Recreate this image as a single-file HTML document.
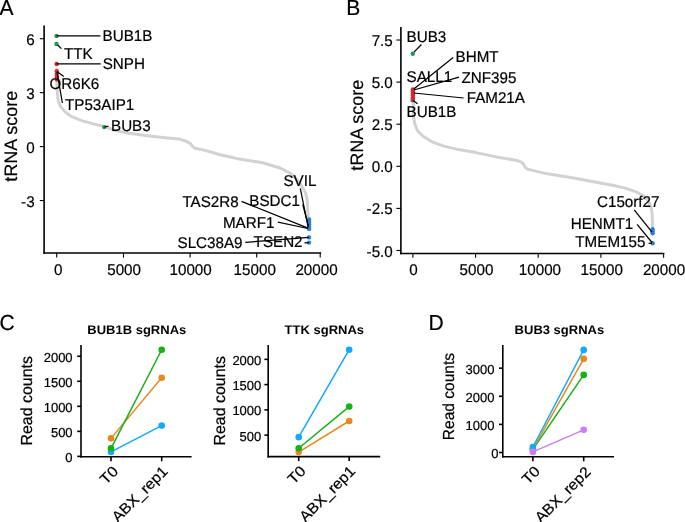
<!DOCTYPE html>
<html><head><meta charset="utf-8"><title>Figure</title>
<style>
html,body{margin:0;padding:0;background:#fff;}
body{width:685px;height:522px;overflow:hidden;}
svg{display:block;}
text{font-family:"Liberation Sans", Arial, Helvetica, sans-serif;fill:#000;text-rendering:geometricPrecision;stroke:#000;stroke-width:0.2px;}
text[font-weight="bold"]{stroke:none;}
</style></head>
<body>
<svg width="685" height="522" viewBox="0 0 685 522">
<rect width="685" height="522" fill="#fff"/>
<text transform="translate(-0.60,14.80) scale(0.97,1)" font-size="21.7">A</text>
<text transform="translate(346.20,14.60) scale(0.97,1)" font-size="21.7">B</text>
<text transform="translate(-0.60,329.60) scale(0.97,1)" font-size="21.7">C</text>
<text transform="translate(428.50,330.40) scale(0.97,1)" font-size="21.7">D</text>
<path d="M56.7,69 L56.7,82 L57.2,89.5 L57.6,95.8 L58.4,101.1 L60.5,106.4 L64.8,111.6 L71.1,116.4 L81.6,120.6 L94.3,124.1 L103.8,126.4 L114.6,130.4 L129.2,133.3 L151.1,136.2 L173,138.4 L178.8,138.9 L186,141.2 L190,143.3 L192.5,146.3 L195,148.3 L205.1,150.4 L220,154.7 L232.8,157.5 L236.3,158.4 L262.6,162.8 L280.1,168 L290.6,173.3 L299.3,182 L305.5,192.6 L307.2,199.9 L308.2,216.8 L308.8,222" fill="none" stroke="#d2d2d2" stroke-width="3.0" stroke-linejoin="round" stroke-linecap="round"/>
<line x1="44.1" y1="25.5" x2="44.1" y2="253.8" stroke="#000" stroke-width="1.6" stroke-linecap="butt"/>
<line x1="43.300000000000004" y1="253.0" x2="321.2" y2="253.0" stroke="#000" stroke-width="1.6" stroke-linecap="butt"/>
<line x1="39.8" y1="38.72" x2="44.1" y2="38.72" stroke="#000" stroke-width="1.1" stroke-linecap="butt"/>
<text transform="translate(34.60,44.72) scale(0.98,1)" font-size="15.5" text-anchor="end">6</text>
<line x1="39.8" y1="92.66" x2="44.1" y2="92.66" stroke="#000" stroke-width="1.1" stroke-linecap="butt"/>
<text transform="translate(34.60,98.66) scale(0.98,1)" font-size="15.5" text-anchor="end">3</text>
<line x1="39.8" y1="146.6" x2="44.1" y2="146.6" stroke="#000" stroke-width="1.1" stroke-linecap="butt"/>
<text transform="translate(34.60,152.60) scale(0.98,1)" font-size="15.5" text-anchor="end">0</text>
<line x1="39.8" y1="200.54" x2="44.1" y2="200.54" stroke="#000" stroke-width="1.1" stroke-linecap="butt"/>
<text transform="translate(34.60,206.54) scale(0.98,1)" font-size="15.5" text-anchor="end">-3</text>
<line x1="56.7" y1="253.0" x2="56.7" y2="257.6" stroke="#000" stroke-width="1.1" stroke-linecap="butt"/>
<text transform="translate(58.20,274.60) scale(0.98,1)" font-size="15.5" text-anchor="middle">0</text>
<line x1="123.5" y1="253.0" x2="123.5" y2="257.6" stroke="#000" stroke-width="1.1" stroke-linecap="butt"/>
<text transform="translate(124.10,274.60) scale(0.98,1)" font-size="15.5" text-anchor="middle">5000</text>
<line x1="190.1" y1="253.0" x2="190.1" y2="257.6" stroke="#000" stroke-width="1.1" stroke-linecap="butt"/>
<text transform="translate(190.60,274.60) scale(0.98,1)" font-size="15.5" text-anchor="middle">10000</text>
<line x1="256.7" y1="253.0" x2="256.7" y2="257.6" stroke="#000" stroke-width="1.1" stroke-linecap="butt"/>
<text transform="translate(254.70,274.60) scale(0.98,1)" font-size="15.5" text-anchor="middle">15000</text>
<line x1="320.2" y1="253.0" x2="320.2" y2="257.6" stroke="#000" stroke-width="1.1" stroke-linecap="butt"/>
<text transform="translate(316.50,274.60) scale(0.98,1)" font-size="15.5" text-anchor="middle">20000</text>
<text transform="translate(16.90,136.30) rotate(-90)" font-size="18.0" text-anchor="middle">tRNA score</text>
<circle cx="56.8" cy="71.2" r="2.15" fill="#d82a2b"/>
<circle cx="56.8" cy="73.3" r="2.15" fill="#d82a2b"/>
<circle cx="56.8" cy="75.4" r="2.15" fill="#d82a2b"/>
<circle cx="56.8" cy="77.5" r="2.15" fill="#d82a2b"/>
<circle cx="56.8" cy="79.6" r="2.15" fill="#d82a2b"/>
<circle cx="56.6" cy="64.0" r="2.2" fill="#d82a2b"/>
<circle cx="56.5" cy="35.9" r="2.2" fill="#1f9a55"/>
<circle cx="56.5" cy="44.0" r="2.2" fill="#1f9a55"/>
<circle cx="104.2" cy="127.1" r="2.2" fill="#1f9a55"/>
<circle cx="309.1" cy="219.4" r="2.2" fill="#2b7fd9"/>
<circle cx="309.1" cy="221.9" r="2.2" fill="#2b7fd9"/>
<circle cx="309.1" cy="224.4" r="2.2" fill="#2b7fd9"/>
<circle cx="309.1" cy="226.9" r="2.2" fill="#2b7fd9"/>
<circle cx="309.1" cy="228.9" r="2.2" fill="#2b7fd9"/>
<circle cx="309" cy="237.4" r="2.2" fill="#2b7fd9"/>
<circle cx="309" cy="242.6" r="2.2" fill="#2b7fd9"/>
<line x1="56.6" y1="35.9" x2="100.5" y2="35.9" stroke="#000" stroke-width="1.25" stroke-linecap="butt"/>
<line x1="57.6" y1="45.0" x2="61.4" y2="48.6" stroke="#000" stroke-width="1.25" stroke-linecap="butt"/>
<line x1="56.6" y1="63.8" x2="100.7" y2="63.8" stroke="#000" stroke-width="1.25" stroke-linecap="butt"/>
<line x1="57.0" y1="71.6" x2="63.8" y2="76.4" stroke="#000" stroke-width="1.25" stroke-linecap="butt"/>
<line x1="57.0" y1="72.2" x2="62.4" y2="103.0" stroke="#000" stroke-width="1.25" stroke-linecap="butt"/>
<line x1="104.4" y1="127.1" x2="108.5" y2="126.0" stroke="#000" stroke-width="1.25" stroke-linecap="butt"/>
<line x1="300.3" y1="188.4" x2="308.2" y2="227.5" stroke="#000" stroke-width="1.25" stroke-linecap="butt"/>
<line x1="302.8" y1="204.5" x2="308.4" y2="226.0" stroke="#000" stroke-width="1.25" stroke-linecap="butt"/>
<line x1="241.6" y1="201.4" x2="308.0" y2="228.2" stroke="#000" stroke-width="1.25" stroke-linecap="butt"/>
<line x1="277.9" y1="222.2" x2="308.0" y2="228.5" stroke="#000" stroke-width="1.25" stroke-linecap="butt"/>
<line x1="245.3" y1="242.4" x2="309.0" y2="237.4" stroke="#000" stroke-width="1.25" stroke-linecap="butt"/>
<line x1="304.5" y1="242.9" x2="309.0" y2="242.6" stroke="#000" stroke-width="1.25" stroke-linecap="butt"/>
<text transform="translate(102.60,41.00) scale(0.98,1)" font-size="15.5">BUB1B</text>
<text transform="translate(64.00,59.00) scale(0.98,1)" font-size="15.5">TTK</text>
<text transform="translate(102.70,69.00) scale(0.98,1)" font-size="15.5">SNPH</text>
<text transform="translate(49.40,89.40) scale(0.98,1)" font-size="15.5">OR6K6</text>
<text transform="translate(65.00,110.10) scale(0.98,1)" font-size="15.5">TP53AIP1</text>
<text transform="translate(111.00,131.30) scale(0.98,1)" font-size="15.5">BUB3</text>
<text transform="translate(283.40,185.60) scale(0.98,1)" font-size="15.5">SVIL</text>
<text transform="translate(182.40,207.00) scale(0.98,1)" font-size="15.5">TAS2R8</text>
<text transform="translate(249.30,206.00) scale(0.98,1)" font-size="15.5">BSDC1</text>
<text transform="translate(222.90,227.70) scale(0.98,1)" font-size="15.5">MARF1</text>
<text transform="translate(177.50,248.10) scale(0.98,1)" font-size="15.5">SLC38A9</text>
<text transform="translate(253.60,247.40) scale(0.98,1)" font-size="15.5">TSEN2</text>
<path d="M413.3,90 L413.3,101 L413.3,108 L413.4,114.6 L414.6,123.4 L417.5,130.7 L423.4,136.5 L432.1,141.8 L443.8,146.1 L458.4,149.6 L475.9,152.6 L496.4,156.9 L516.8,160.4 L521,161.8 L523.5,164 L525.3,167.6 L528,169.3 L531.4,170.1 L546,173.6 L575.2,178.2 L600,183.0 L614,185.5 L626,188.4 L636,191.8 L643,195.6 L648,200.5 L651,207 L652.2,214 L652.5,226.7 L652.6,230" fill="none" stroke="#d2d2d2" stroke-width="3.0" stroke-linejoin="round" stroke-linecap="round"/>
<line x1="400.9" y1="26.9" x2="400.9" y2="254.3" stroke="#000" stroke-width="1.6" stroke-linecap="butt"/>
<line x1="400.09999999999997" y1="253.5" x2="664.4" y2="253.5" stroke="#000" stroke-width="1.6" stroke-linecap="butt"/>
<line x1="396.4" y1="40.000000000000014" x2="400.9" y2="40.000000000000014" stroke="#000" stroke-width="1.1" stroke-linecap="butt"/>
<text transform="translate(392.80,46.00) scale(0.98,1)" font-size="15.5" text-anchor="end">7.5</text>
<line x1="396.4" y1="82.10000000000001" x2="400.9" y2="82.10000000000001" stroke="#000" stroke-width="1.1" stroke-linecap="butt"/>
<text transform="translate(392.80,88.10) scale(0.98,1)" font-size="15.5" text-anchor="end">5.0</text>
<line x1="396.4" y1="124.20000000000002" x2="400.9" y2="124.20000000000002" stroke="#000" stroke-width="1.1" stroke-linecap="butt"/>
<text transform="translate(392.80,130.20) scale(0.98,1)" font-size="15.5" text-anchor="end">2.5</text>
<line x1="396.4" y1="166.3" x2="400.9" y2="166.3" stroke="#000" stroke-width="1.1" stroke-linecap="butt"/>
<text transform="translate(392.80,172.30) scale(0.98,1)" font-size="15.5" text-anchor="end">0.0</text>
<line x1="396.4" y1="208.4" x2="400.9" y2="208.4" stroke="#000" stroke-width="1.1" stroke-linecap="butt"/>
<text transform="translate(392.80,214.40) scale(0.98,1)" font-size="15.5" text-anchor="end">-2.5</text>
<line x1="396.4" y1="250.5" x2="400.9" y2="250.5" stroke="#000" stroke-width="1.1" stroke-linecap="butt"/>
<text transform="translate(392.80,256.50) scale(0.98,1)" font-size="15.5" text-anchor="end">-5.0</text>
<line x1="412.9" y1="253.5" x2="412.9" y2="257.7" stroke="#000" stroke-width="1.1" stroke-linecap="butt"/>
<text transform="translate(413.40,274.90) scale(0.98,1)" font-size="15.5" text-anchor="middle">0</text>
<line x1="475.6" y1="253.5" x2="475.6" y2="257.7" stroke="#000" stroke-width="1.1" stroke-linecap="butt"/>
<text transform="translate(476.50,274.90) scale(0.98,1)" font-size="15.5" text-anchor="middle">5000</text>
<line x1="538.2" y1="253.5" x2="538.2" y2="257.7" stroke="#000" stroke-width="1.1" stroke-linecap="butt"/>
<text transform="translate(539.90,274.90) scale(0.98,1)" font-size="15.5" text-anchor="middle">10000</text>
<line x1="600.9" y1="253.5" x2="600.9" y2="257.7" stroke="#000" stroke-width="1.1" stroke-linecap="butt"/>
<text transform="translate(601.70,274.90) scale(0.98,1)" font-size="15.5" text-anchor="middle">15000</text>
<line x1="663.6" y1="253.5" x2="663.6" y2="257.7" stroke="#000" stroke-width="1.1" stroke-linecap="butt"/>
<text transform="translate(664.00,274.90) scale(0.98,1)" font-size="15.5" text-anchor="middle">20000</text>
<text transform="translate(362.50,125.20) rotate(-90)" font-size="18.0" text-anchor="middle">tRNA score</text>
<circle cx="412.5" cy="100.4" r="2.1" fill="#1f9a55"/>
<circle cx="412.9" cy="89.4" r="2.25" fill="#d82a2b"/>
<circle cx="412.9" cy="91.4" r="2.25" fill="#d82a2b"/>
<circle cx="412.9" cy="93.4" r="2.25" fill="#d82a2b"/>
<circle cx="412.9" cy="95.4" r="2.25" fill="#d82a2b"/>
<circle cx="412.9" cy="97.4" r="2.25" fill="#d82a2b"/>
<circle cx="412.9" cy="99.0" r="2.25" fill="#d82a2b"/>
<circle cx="412.8" cy="53.7" r="2.2" fill="#1f9a55"/>
<circle cx="652.6" cy="229.3" r="2.2" fill="#2b7fd9"/>
<circle cx="652.6" cy="231.3" r="2.2" fill="#2b7fd9"/>
<circle cx="652.6" cy="233.2" r="2.2" fill="#2b7fd9"/>
<circle cx="652.6" cy="243.2" r="2.2" fill="#2b7fd9"/>
<line x1="414.0" y1="52.1" x2="421.4" y2="44.5" stroke="#000" stroke-width="1.25" stroke-linecap="butt"/>
<line x1="413.8" y1="89.0" x2="453.2" y2="57.4" stroke="#000" stroke-width="1.25" stroke-linecap="butt"/>
<line x1="413.8" y1="90.0" x2="459.0" y2="77.2" stroke="#000" stroke-width="1.25" stroke-linecap="butt"/>
<line x1="413.8" y1="93.0" x2="463.6" y2="98.0" stroke="#000" stroke-width="1.25" stroke-linecap="butt"/>
<line x1="413.2" y1="100.5" x2="417.5" y2="103.8" stroke="#000" stroke-width="1.25" stroke-linecap="butt"/>
<line x1="634.2" y1="209.8" x2="652.0" y2="232.2" stroke="#000" stroke-width="1.25" stroke-linecap="butt"/>
<line x1="637.1" y1="224.4" x2="652.0" y2="242.5" stroke="#000" stroke-width="1.25" stroke-linecap="butt"/>
<line x1="648.6" y1="243.3" x2="652.0" y2="243.3" stroke="#000" stroke-width="1.25" stroke-linecap="butt"/>
<text transform="translate(406.60,42.00) scale(0.98,1)" font-size="15.5">BUB3</text>
<text transform="translate(455.60,61.90) scale(0.98,1)" font-size="15.5">BHMT</text>
<text transform="translate(406.60,82.20) scale(0.98,1)" font-size="15.5">SALL1</text>
<text transform="translate(461.50,82.50) scale(0.98,1)" font-size="15.5">ZNF395</text>
<text transform="translate(466.70,103.20) scale(0.98,1)" font-size="15.5">FAM21A</text>
<text transform="translate(406.60,116.60) scale(0.98,1)" font-size="15.5">BUB1B</text>
<text transform="translate(597.00,207.30) scale(0.98,1)" font-size="15.5">C15orf27</text>
<text transform="translate(633.20,228.80) scale(0.98,1)" font-size="15.5" text-anchor="end">HENMT1</text>
<text transform="translate(645.40,247.30) scale(0.98,1)" font-size="15.5" text-anchor="end">TMEM155</text>
<line x1="81.0" y1="344.9" x2="81.0" y2="457.6" stroke="#000" stroke-width="1.6" stroke-linecap="butt"/>
<line x1="80.2" y1="456.8" x2="191.6" y2="456.8" stroke="#000" stroke-width="1.6" stroke-linecap="butt"/>
<line x1="77.2" y1="456.4" x2="81.0" y2="456.4" stroke="#000" stroke-width="1.6" stroke-linecap="butt"/>
<text transform="translate(72.60,461.80)" font-size="13.0" text-anchor="end">0</text>
<line x1="77.2" y1="431.36499999999995" x2="81.0" y2="431.36499999999995" stroke="#000" stroke-width="1.6" stroke-linecap="butt"/>
<text transform="translate(72.60,436.76)" font-size="13.0" text-anchor="end">500</text>
<line x1="77.2" y1="406.33" x2="81.0" y2="406.33" stroke="#000" stroke-width="1.6" stroke-linecap="butt"/>
<text transform="translate(72.60,411.73)" font-size="13.0" text-anchor="end">1000</text>
<line x1="77.2" y1="381.29499999999996" x2="81.0" y2="381.29499999999996" stroke="#000" stroke-width="1.6" stroke-linecap="butt"/>
<text transform="translate(72.60,386.69)" font-size="13.0" text-anchor="end">1500</text>
<line x1="77.2" y1="356.26" x2="81.0" y2="356.26" stroke="#000" stroke-width="1.6" stroke-linecap="butt"/>
<text transform="translate(72.60,361.66)" font-size="13.0" text-anchor="end">2000</text>
<line x1="111.0" y1="456.8" x2="111.0" y2="461.3" stroke="#000" stroke-width="1.6" stroke-linecap="butt"/>
<line x1="161.7" y1="456.8" x2="161.7" y2="461.3" stroke="#000" stroke-width="1.6" stroke-linecap="butt"/>
<line x1="111.0" y1="438.3748" x2="161.7" y2="377.79009999999994" stroke="#e8891f" stroke-width="1.5" stroke-linecap="butt"/>
<line x1="111.0" y1="451.89369999999997" x2="161.7" y2="425.60695" stroke="#14aaf9" stroke-width="1.5" stroke-linecap="butt"/>
<line x1="111.0" y1="448.3888" x2="161.7" y2="349.7509" stroke="#17b017" stroke-width="1.5" stroke-linecap="butt"/>
<circle cx="111.0" cy="438.3748" r="3.3" fill="#e8891f"/>
<circle cx="161.7" cy="377.79009999999994" r="3.3" fill="#e8891f"/>
<circle cx="111.0" cy="451.89369999999997" r="3.3" fill="#14aaf9"/>
<circle cx="161.7" cy="425.60695" r="3.3" fill="#14aaf9"/>
<circle cx="111.0" cy="448.3888" r="3.3" fill="#17b017"/>
<circle cx="161.7" cy="349.7509" r="3.3" fill="#17b017"/>
<text transform="translate(87.30,333.80) scale(1.04,1)" font-size="12.5" font-weight="bold">BUB1B sgRNAs</text>
<text transform="translate(31.50,400.80) rotate(-90) scale(0.995,1)" font-size="16.0" text-anchor="middle">Read counts</text>
<text transform="translate(119.10,472.20) rotate(-45) scale(1.05,1)" font-size="15.0" text-anchor="end">T0</text>
<text transform="translate(168.70,472.20) rotate(-45) scale(1.05,1)" font-size="15.0" text-anchor="end">ABX_rep1</text>
<line x1="268.2" y1="344.9" x2="268.2" y2="457.40000000000003" stroke="#000" stroke-width="1.6" stroke-linecap="butt"/>
<line x1="267.4" y1="456.6" x2="380.2" y2="456.6" stroke="#000" stroke-width="1.6" stroke-linecap="butt"/>
<line x1="264.4" y1="435.135" x2="268.2" y2="435.135" stroke="#000" stroke-width="1.6" stroke-linecap="butt"/>
<text transform="translate(261.30,440.53)" font-size="13.0" text-anchor="end">500</text>
<line x1="264.4" y1="409.87" x2="268.2" y2="409.87" stroke="#000" stroke-width="1.6" stroke-linecap="butt"/>
<text transform="translate(261.30,415.27)" font-size="13.0" text-anchor="end">1000</text>
<line x1="264.4" y1="384.60499999999996" x2="268.2" y2="384.60499999999996" stroke="#000" stroke-width="1.6" stroke-linecap="butt"/>
<text transform="translate(261.30,390.00)" font-size="13.0" text-anchor="end">1500</text>
<line x1="264.4" y1="359.34" x2="268.2" y2="359.34" stroke="#000" stroke-width="1.6" stroke-linecap="butt"/>
<text transform="translate(261.30,364.74)" font-size="13.0" text-anchor="end">2000</text>
<line x1="298.7" y1="456.6" x2="298.7" y2="461.1" stroke="#000" stroke-width="1.6" stroke-linecap="butt"/>
<line x1="349.2" y1="456.6" x2="349.2" y2="461.1" stroke="#000" stroke-width="1.6" stroke-linecap="butt"/>
<line x1="298.7" y1="452.06255" x2="349.2" y2="420.98659999999995" stroke="#e8891f" stroke-width="1.5" stroke-linecap="butt"/>
<line x1="298.7" y1="448.27279999999996" x2="349.2" y2="406.58554999999996" stroke="#17b017" stroke-width="1.5" stroke-linecap="butt"/>
<line x1="298.7" y1="437.15619999999996" x2="349.2" y2="349.73929999999996" stroke="#14aaf9" stroke-width="1.5" stroke-linecap="butt"/>
<circle cx="298.7" cy="452.06255" r="3.3" fill="#e8891f"/>
<circle cx="349.2" cy="420.98659999999995" r="3.3" fill="#e8891f"/>
<circle cx="298.7" cy="448.27279999999996" r="3.3" fill="#17b017"/>
<circle cx="349.2" cy="406.58554999999996" r="3.3" fill="#17b017"/>
<circle cx="298.7" cy="437.15619999999996" r="3.3" fill="#14aaf9"/>
<circle cx="349.2" cy="349.73929999999996" r="3.3" fill="#14aaf9"/>
<text transform="translate(284.60,333.80) scale(1.04,1)" font-size="12.5" font-weight="bold">TTK sgRNAs</text>
<text transform="translate(224.90,400.80) rotate(-90) scale(0.995,1)" font-size="16.0" text-anchor="middle">Read counts</text>
<text transform="translate(306.80,472.00) rotate(-45) scale(1.05,1)" font-size="15.0" text-anchor="end">T0</text>
<text transform="translate(356.20,472.00) rotate(-45) scale(1.05,1)" font-size="15.0" text-anchor="end">ABX_rep1</text>
<line x1="502.8" y1="344.9" x2="502.8" y2="457.6" stroke="#000" stroke-width="1.6" stroke-linecap="butt"/>
<line x1="502.0" y1="456.8" x2="614.0" y2="456.8" stroke="#000" stroke-width="1.6" stroke-linecap="butt"/>
<line x1="499.0" y1="452.5" x2="502.8" y2="452.5" stroke="#000" stroke-width="1.6" stroke-linecap="butt"/>
<text transform="translate(498.40,457.90)" font-size="13.0" text-anchor="end">0</text>
<line x1="499.0" y1="424.39" x2="502.8" y2="424.39" stroke="#000" stroke-width="1.6" stroke-linecap="butt"/>
<text transform="translate(494.40,429.79)" font-size="13.0" text-anchor="end">1000</text>
<line x1="499.0" y1="396.28" x2="502.8" y2="396.28" stroke="#000" stroke-width="1.6" stroke-linecap="butt"/>
<text transform="translate(494.40,401.68)" font-size="13.0" text-anchor="end">2000</text>
<line x1="499.0" y1="368.17" x2="502.8" y2="368.17" stroke="#000" stroke-width="1.6" stroke-linecap="butt"/>
<text transform="translate(494.40,373.57)" font-size="13.0" text-anchor="end">3000</text>
<line x1="532.9" y1="456.8" x2="532.9" y2="461.3" stroke="#000" stroke-width="1.6" stroke-linecap="butt"/>
<line x1="583.7" y1="456.8" x2="583.7" y2="461.3" stroke="#000" stroke-width="1.6" stroke-linecap="butt"/>
<line x1="532.9" y1="449.4079" x2="583.7" y2="374.9164" stroke="#17b017" stroke-width="1.5" stroke-linecap="butt"/>
<line x1="532.9" y1="448.98625" x2="583.7" y2="358.89369999999997" stroke="#e8891f" stroke-width="1.5" stroke-linecap="butt"/>
<line x1="532.9" y1="446.99044" x2="583.7" y2="349.8985" stroke="#14aaf9" stroke-width="1.5" stroke-linecap="butt"/>
<line x1="532.9" y1="451.90969" x2="583.7" y2="429.87145" stroke="#c97ff2" stroke-width="1.5" stroke-linecap="butt"/>
<circle cx="532.9" cy="449.4079" r="3.3" fill="#17b017"/>
<circle cx="583.7" cy="374.9164" r="3.3" fill="#17b017"/>
<circle cx="532.9" cy="448.98625" r="3.3" fill="#e8891f"/>
<circle cx="583.7" cy="358.89369999999997" r="3.3" fill="#e8891f"/>
<circle cx="532.9" cy="446.99044" r="3.3" fill="#14aaf9"/>
<circle cx="583.7" cy="349.8985" r="3.3" fill="#14aaf9"/>
<circle cx="532.9" cy="451.90969" r="3.3" fill="#c97ff2"/>
<circle cx="583.7" cy="429.87145" r="3.3" fill="#c97ff2"/>
<text transform="translate(514.60,333.80) scale(1.04,1)" font-size="12.5" font-weight="bold">BUB3 sgRNAs</text>
<text transform="translate(454.10,396.60) rotate(-90) scale(0.97,1)" font-size="16.0" text-anchor="middle">Read counts</text>
<text transform="translate(541.00,472.20) rotate(-45) scale(1.05,1)" font-size="15.0" text-anchor="end">T0</text>
<text transform="translate(591.70,472.80) rotate(-45) scale(1.05,1)" font-size="15.0" text-anchor="end">ABX_rep2</text>
</svg>
</body></html>
